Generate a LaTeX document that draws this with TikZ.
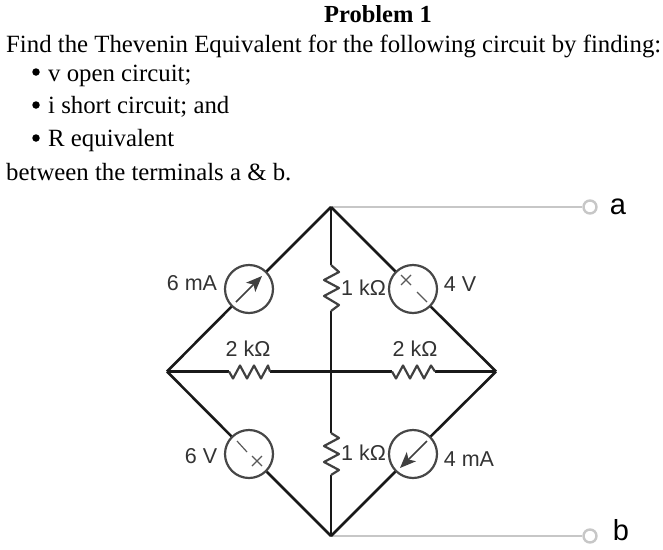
\documentclass[tikz,border=0pt]{standalone}
\usepackage{fontspec}
\setmainfont{Liberation Serif}
\newfontfamily\labelfont{Liberation Sans}
\usetikzlibrary{arrows.meta}
\tikzset{
  wire/.style={draw=black!90,line width=2.6pt,line join=miter},
  res/.style={draw=black!75,line width=2.2pt,line join=round},
  lead/.style={draw=black!22,line width=2.4pt},
  src/.style={circle,draw=black!72,line width=2.2pt,minimum size=48pt,inner sep=0pt},
  sign/.style={draw=black!65,line width=1.2pt},
  term/.style={circle,draw=black!22,line width=2.4pt,minimum size=13pt,inner sep=0pt},
  txt/.style={anchor=base west,inner sep=0pt,font=\fontsize{24.8}{25}\selectfont,text=black},
  lab/.style={inner sep=0pt,font=\labelfont\fontsize{21.5}{22}\selectfont,text=black!80},
  endlab/.style={inner sep=0pt,font=\labelfont\fontsize{29}{29}\selectfont,text=black},
  dot/.style={circle,fill=black,inner sep=0pt,minimum size=7.5pt}
}
\begin{document}
\begin{tikzpicture}[x=1pt,y=-1pt]
\useasboundingbox (0,0) rectangle (663,549);
% text
\node[inner sep=0pt,anchor=base,font=\fontsize{24.5}{25}\selectfont\bfseries] (title) at (378,22) {Problem 1};
\node[txt] (l1) at (6,52) {Find the Thevenin Equivalent for the following circuit by finding:};
\node[dot] (b1) at (36,72) {}; \node[txt] (l2) at (48,81) {v open circuit;};
\node[dot] (b2) at (36,105) {}; \node[txt] (l3) at (48,113) {i short circuit; and};
\node[dot] (b3) at (36,138) {}; \node[txt] (l4) at (48,146) {R equivalent};
\node[txt] (l5) at (6,180) {between the terminals a \& b.};
% junctions
\coordinate (T) at (331,207);
\coordinate (L) at (167,371.5);
\coordinate (R) at (496,371.5);
\coordinate (B) at (331,536);
\coordinate (C) at (331,371.5);
% sources
\node[src] (s1) at (249,289) {};
\node[src] (s2) at (413,289) {};
\node[src] (s3) at (249,454) {};
\node[src] (s4) at (413,454) {};
% terminals
\node[term] (ta) at (590,207) {};
\node[term] (tb) at (590,536) {};
\draw[lead] (T) -- (ta);
\draw[lead] (B) -- (tb);
% diamond
\draw[wire] (T) -- (s1);
\draw[wire] (s1) -- (L);
\draw[wire] (T) -- (s2);
\draw[wire] (s2) -- (R);
\draw[wire] (L) -- (s3);
\draw[wire] (s3) -- (B);
\draw[wire] (R) -- (s4);
\draw[wire] (s4) -- (B);
% resistors: end points
\coordinate (v1a) at (331,265); \coordinate (v1b) at (331,311);
\coordinate (v2a) at (331,433); \coordinate (v2b) at (331,475);
\coordinate (h1a) at (229,371.5); \coordinate (h1b) at (270,371.5);
\coordinate (h2a) at (392,371.5); \coordinate (h2b) at (435,371.5);
\draw[wire] (T) -- (v1a);
\draw[wire] (v1b) -- (C) -- (v2a);
\draw[wire] (v2b) -- (B);
\draw[wire] (L) -- (h1a);
\draw[wire] (h1b) -- (C) -- (h2a);
\draw[wire] (h2b) -- (R);
\draw[res] (v1a) -- ++(8,7) -- ++(-15,8) -- ++(15,8) -- ++(-15,8) -- ++(15,9) -- (v1b);
\draw[res] (v2a) -- ++(8,5) -- ++(-15,8) -- ++(15,8) -- ++(-15,8) -- ++(15,8) -- (v2b);
\draw[res] (h1a) -- ++(4,7) -- ++(7,-13) -- ++(7,13) -- ++(7,-13) -- ++(7,13) -- ++(7,-13) -- (h1b);
\draw[res] (h2a) -- ++(4,7) -- ++(7,-13) -- ++(7,13) -- ++(7,-13) -- ++(7,13) -- ++(7,-13) -- (h2b);
% source symbols
\coordinate (a1s) at (236,302); \coordinate (a1e) at (262,276);
\coordinate (a4s) at (427,441); \coordinate (a4e) at (400,468);
\draw[sign,line width=1.5pt,draw=black!75,-{Stealth[length=16pt,width=13pt,inset=4pt]}] (a1s) -- (a1e);
\draw[sign,line width=1.5pt,draw=black!75,-{Stealth[length=16pt,width=13pt,inset=4pt]}] (a4s) -- (a4e);
\draw[sign] (417,292) -- (427,302);
\draw[sign] (401,275) -- (411,285) (411,275) -- (401,285);
\draw[sign] (237,441) -- (247,452);
\draw[sign] (252,456) -- (262,466) (262,456) -- (252,466);
% labels
\node[lab] (n1) at (192,283) {6 mA};
\node[lab] (n2) at (363.5,288) {1 kΩ};
\node[lab] (n3) at (460,284) {4 V};
\node[lab] (n4) at (248,349) {2 kΩ};
\node[lab] (n5) at (415,349) {2 kΩ};
\node[lab] (n6) at (201,456) {6 V};
\node[lab] (n7) at (363.5,453) {1 kΩ};
\node[lab] (n8) at (469,459) {4 mA};
\node[endlab] (na) at (618,207) {a};
\node[endlab] (nb) at (621,530) {b};
\end{tikzpicture}
\end{document}
